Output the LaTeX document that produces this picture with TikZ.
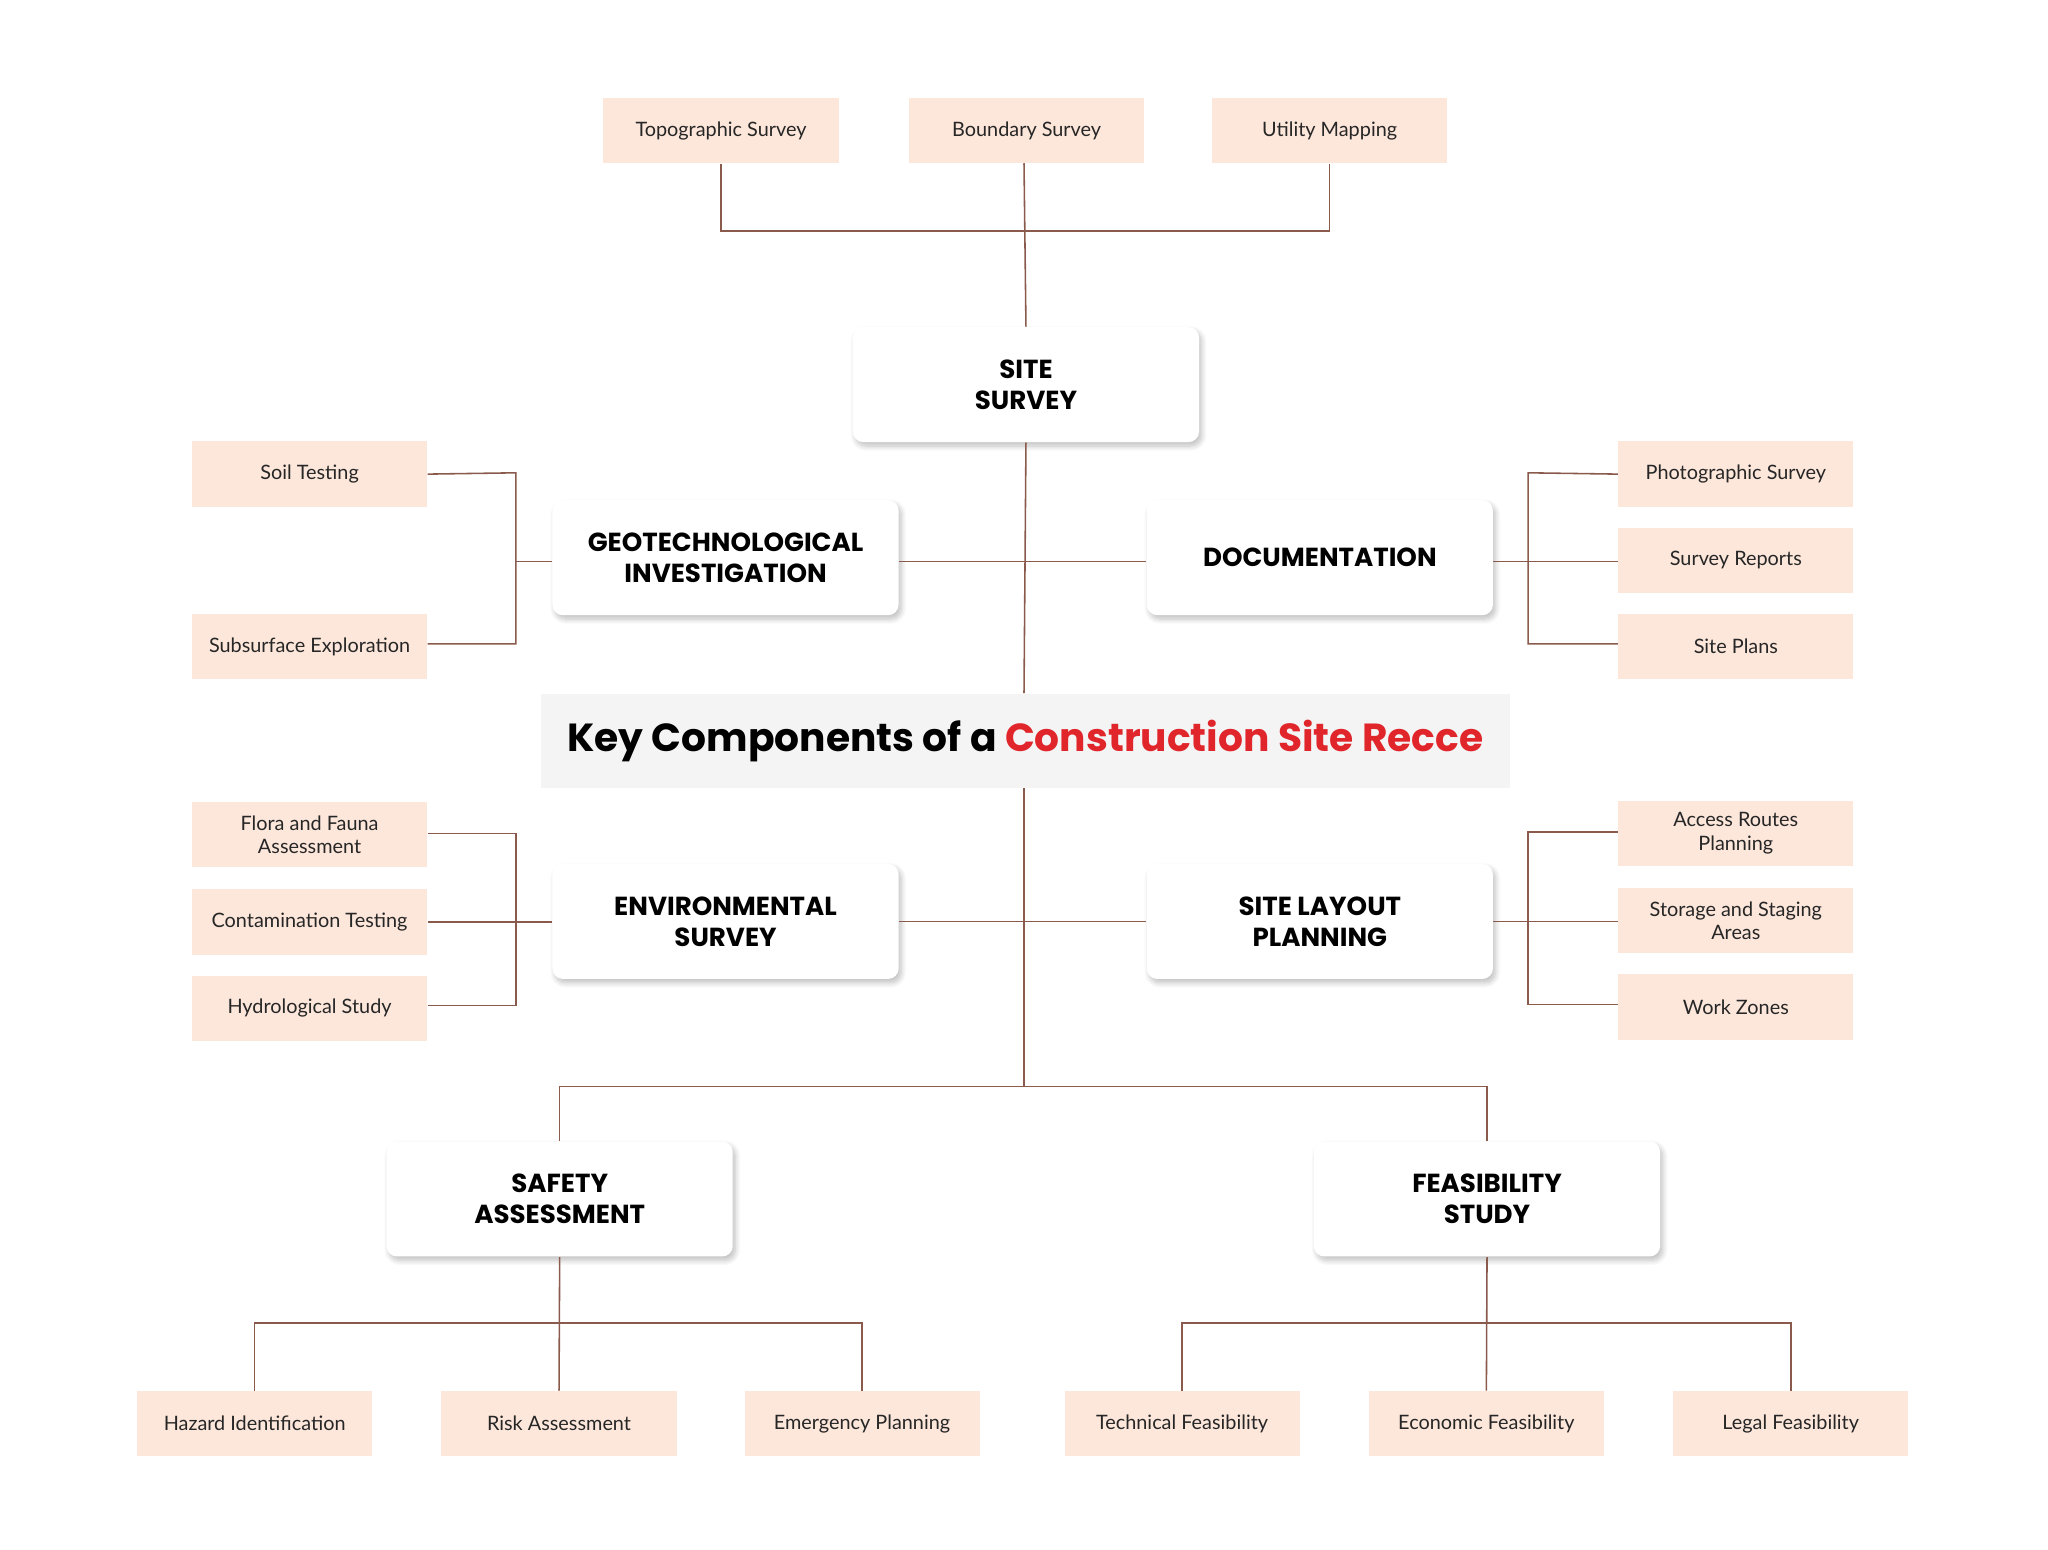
\documentclass[tikz,border=0pt]{standalone}
\usepackage{fontspec}
\setmainfont{Lato}
\newfontfamily\headfont{Poppins}
\usetikzlibrary{shadows.blur}
\definecolor{leaf}{HTML}{FDE7DB}
\definecolor{lnk}{HTML}{8A5A4C}
\definecolor{ttl}{HTML}{F4F4F4}
\definecolor{redt}{HTML}{E0252B}
\tikzset{
 x=0.5pt,y=-0.5pt,
 leafbox/.style={fill=leaf,minimum width=90pt,minimum height=25pt,inner sep=1pt,align=center,font=\fontsize{7.6}{9}\selectfont,text=black!85},
 mainbox/.style={fill=white,rounded corners=4pt,minimum width=132.5pt,minimum height=44pt,align=center,font=\headfont\bfseries\fontsize{10}{12}\selectfont,blur shadow={shadow blur steps=8,shadow xshift=1pt,shadow yshift=-1.5pt,shadow opacity=25}},
 con/.style={draw=lnk,line width=0.6pt}
}
\begin{document}
\begin{tikzpicture}
\useasboundingbox (0,0) rectangle (1568,1186);
% top
\node[leafbox] (topo) at (552,100) {Topographic Survey};
\node[leafbox] (bound) at (786,100) {Boundary Survey};
\node[leafbox] (util) at (1018,100) {Utility Mapping};
\node[mainbox] (site) at (785.5,294.5) {SITE\\SURVEY};
\coordinate (tj) at (784,177);
\draw[con] (topo.south) |- (tj) -| (util.south);
\draw[con] (784,125) -- (site.north);
% row 2
\node[mainbox] (geo) at (555.5,427) {GEOTECHNOLOGICAL\\INVESTIGATION};
\node[mainbox] (doc) at (1010.5,427) {DOCUMENTATION};
\node[leafbox] (soil) at (237,363) {Soil Testing};
\node[leafbox] (sub) at (237,495) {Subsurface Exploration};
\node[leafbox] (photo) at (1329,363) {Photographic Survey};
\node[leafbox] (rep) at (1329,429) {Survey Reports};
\node[leafbox] (plans) at (1329,495) {Site Plans};
\coordinate (gl) at (395,430);
\draw[con] (soil.east) -- (395,362) -- (395,493) -- (sub.east|-0,493);
\draw[con] (gl) -- (geo.west|-gl);
\draw[con] (photo.west) -- (1170,362) -- (1170,493) -- (plans.west|-0,493);
\draw[con] (doc.east|-0,430) -- (rep.west|-0,430);
% title
\node[fill=ttl,minimum width=371pt,minimum height=36pt,font=\headfont\bfseries\fontsize{15}{18}\selectfont] (title) at (785,567) {Key Components of a \textcolor{redt}{Construction Site Recce}};
\draw[con] (site.south) -- (title.north-|784,0);
\draw[con] (geo.east|-0,430) -- (doc.west|-0,430);
% row 3
\node[mainbox] (env) at (555.5,705.5) {ENVIRONMENTAL\\SURVEY};
\node[mainbox] (lay) at (1010.5,705.5) {SITE LAYOUT\\PLANNING};
\node[leafbox] (flora) at (237,639) {Flora and Fauna\\Assessment};
\node[leafbox] (cont) at (237,706) {Contamination Testing};
\node[leafbox] (hyd) at (237,772) {Hydrological Study};
\node[leafbox] (acc) at (1329,638) {Access Routes\\Planning};
\node[leafbox] (stor) at (1329,705) {Storage and Staging\\Areas};
\node[leafbox] (work) at (1329,771) {Work Zones};
\draw[con] (flora.east|-0,638) -- (395,638) -- (395,770) -- (hyd.east|-0,770);
\draw[con] (cont.east) -- (env.west|-cont.east);
\draw[con] (acc.west|-0,637) -- (1170,637) -- (1170,769) -- (work.west|-0,769);
\draw[con] (lay.east) -- (stor.west|-lay.east);
\draw[con] (env.east) -- (lay.west);
% bottom
\node[mainbox] (saf) at (428.5,918) {SAFETY\\ASSESSMENT};
\node[mainbox] (feas) at (1138.5,918) {FEASIBILITY\\STUDY};
\coordinate (bj) at (784,832);
\draw[con] (title.south-|784,0) -- (bj);
\draw[con] (saf.north) |- (bj) -| (feas.north);
\node[leafbox] (haz) at (195,1090) {Hazard Identification};
\node[leafbox] (risk) at (428,1090) {Risk Assessment};
\node[leafbox] (emer) at (660,1090) {Emergency Planning};
\node[leafbox] (tech) at (905,1090) {Technical Feasibility};
\node[leafbox] (eco) at (1138,1090) {Economic Feasibility};
\node[leafbox] (legal) at (1371,1090) {Legal Feasibility};
\draw[con] (haz.north) |- (428,1013) -| (emer.north);
\draw[con] (saf.south) -- (risk.north);
\draw[con] (tech.north) |- (1138,1013) -| (legal.north);
\draw[con] (feas.south) -- (eco.north);
\end{tikzpicture}
\end{document}
